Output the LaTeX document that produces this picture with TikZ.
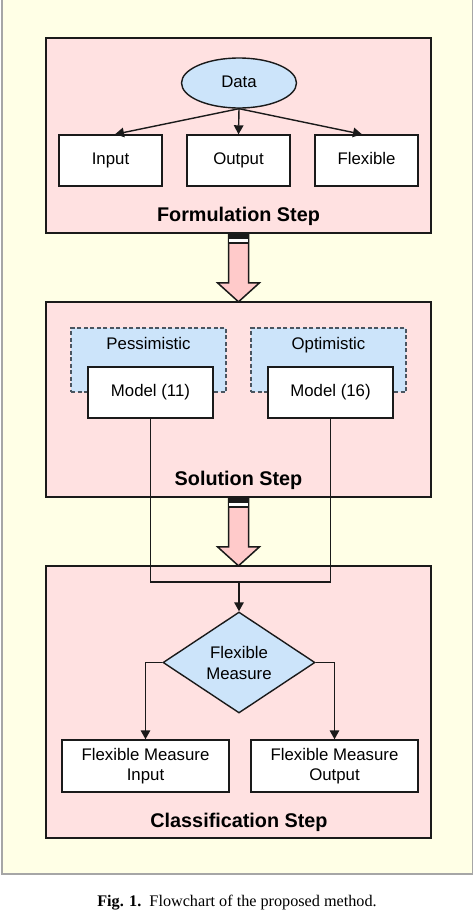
\documentclass[tikz,border=0pt]{standalone}
\usepackage{fontspec}
\setmainfont{Liberation Sans}
\newfontfamily\capfont{Liberation Serif}
\usetikzlibrary{shapes.geometric,arrows.meta}
\definecolor{bgy}{HTML}{FFFFE6}
\definecolor{stepfill}{HTML}{FFE1E1}
\definecolor{lblue}{HTML}{CCE4FA}
\definecolor{arrowfill}{HTML}{FFCACA}
\definecolor{edge}{HTML}{1A1A1A}
\definecolor{dashc}{HTML}{4A5560}
\tikzset{
  stepbox/.style={draw=edge, fill=stepfill, line width=1.6pt, inner sep=0pt},
  whitebox/.style={draw=edge, fill=white, line width=1.4pt, inner sep=0pt, align=center, font=\fontsize{16.8}{20.5}\selectfont},
  oneline/.style={text height=12.2pt, text depth=3.6pt},
  groupbox/.style={draw=dashc, fill=lblue, dash pattern=on 4pt off 2.5pt, line width=1.3pt, inner sep=0pt},
  steptitle/.style={font=\fontsize{19.8}{24}\selectfont\bfseries, inner sep=0pt},
  plain/.style={font=\fontsize{16.8}{20}\selectfont, inner sep=0pt, anchor=base},
  arr/.style={draw=edge, line width=1.4pt, -{Triangle[length=9pt,width=9.5pt]}},
  conn/.style={draw=edge, line width=1.4pt},
  blockarr/.pic={
    \draw[fill=arrowfill, draw=edge, line width=1.5pt, line join=miter]
      (-10,1) -- (-10,49) -- (-21,49) -- (0,68) -- (21,49) -- (10,49) -- (10,1) -- cycle;
    \fill[white] (-9.3,5) rectangle (9.3,8.5);
    \fill[edge] (-10,1) rectangle (10,5);
    \draw[edge, line width=1.4pt] (-10,9) -- (10,9);
  }
}
\begin{document}
\begin{tikzpicture}[x=1pt,y=-1pt]
\useasboundingbox (0,0) rectangle (474,911);
\fill[white] (0,0) rectangle (474,911);
\draw[fill=bgy, draw=gray!70, line width=1.6pt] (2,-5) rectangle (472.5,874);

% step boxes
\node[stepbox, minimum width=385pt, minimum height=195pt] (f) at (238.5,135.5) {};
\node[stepbox, minimum width=385pt, minimum height=195pt] (s) at (238.5,399.5) {};
\node[stepbox, minimum width=385pt, minimum height=272pt] (c) at (238.5,702) {};

\node[steptitle] (ft) at (238.5,216) {Formulation Step};
\node[steptitle] (st) at (238.5,480) {Solution Step};
\node[steptitle] (ct) at (239,822) {Classification Step};

% block arrows
\pic at (f.south) {blockarr};
\pic at (s.south) {blockarr};

% formulation
\node[ellipse, draw=edge, fill=lblue, line width=1.4pt, minimum width=115pt, minimum height=50pt, inner sep=0pt, font=\fontsize{16.8}{20}\selectfont, text height=12.2pt, text depth=3.6pt] (d) at (239,83) {Data};
\node[whitebox, oneline, minimum width=103pt, minimum height=51pt] (in) at (110.5,160.5) {Input};
\node[whitebox, oneline, minimum width=103pt, minimum height=51pt] (out) at (238.5,160.5) {Output};
\node[whitebox, oneline, minimum width=103pt, minimum height=51pt] (fl) at (366.5,160.5) {Flexible};
\draw[arr] (d.south) -- ([xshift=4.5pt]in.north);
\draw[arr] (d.south) -- (out.north);
\draw[arr] (d.south) -- ([xshift=-4.5pt]fl.north);

% solution
\node[groupbox, minimum width=155pt, minimum height=64pt] (pg) at (148.5,360) {};
\node[plain] (pt) at (148.5,349.5) {Pessimistic};
\node[groupbox, minimum width=155pt, minimum height=64pt] (og) at (328.5,360) {};
\node[plain] (ot) at (328.5,349.5) {Optimistic};
\node[whitebox, oneline, minimum width=125pt, minimum height=51pt] (m11) at (150.5,392.5) {Model (11)};
\node[whitebox, oneline, minimum width=125pt, minimum height=51pt] (m16) at (330.5,392.5) {Model (16)};

% classification
\coordinate (j) at (239,582);
\node[diamond, draw=edge, fill=lblue, line width=1.4pt, minimum width=152pt, minimum height=101pt, inner sep=0pt, align=center, font=\fontsize{16.8}{21}\selectfont] (dm) at (239,662.5) {Flexible\\Measure};
\node[whitebox, minimum width=167pt, minimum height=52pt] (fmi) at (145.5,766) {Flexible Measure\\Input};
\node[whitebox, minimum width=167pt, minimum height=52pt] (fmo) at (334.5,766) {Flexible Measure\\Output};

\draw[conn] (m11.south) -- (m11.south |- j) -- (m16.south |- j) -- (m16.south);
\draw[arr] (j) -- (dm.north);
\draw[arr] (dm.west) -| (fmi.north);
\draw[arr] (dm.east) -| (fmo.north);

% caption
\node[font=\capfont\fontsize{16.2}{19}\selectfont, inner sep=0pt] (cap) at (237,903) {\textbf{Fig. 1.}\ \ Flowchart of the proposed method.};
\end{tikzpicture}
\end{document}
